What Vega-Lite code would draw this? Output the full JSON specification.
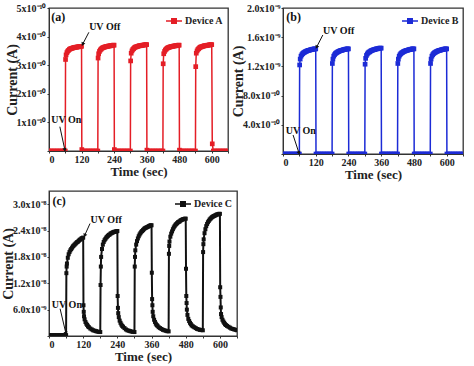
{
  "$schema": "https://vega.github.io/schema/vega-lite/v6.json",
  "padding": {"left": 0, "top": 2, "right": 0, "bottom": 0},
  "background": "white",
  "config": {
    "font": "Liberation Serif",
    "view": {"stroke": "#333", "strokeWidth": 1.3},
    "axis": {"grid": false, "labelOverlap": false, "labelFont": "Liberation Serif", "labelFontWeight": "bold", "labelFontSize": 10, "labelColor": "#222", "titleFont": "Liberation Serif", "titleFontWeight": "bold", "titleFontSize": 14, "titleColor": "#222", "domainColor": "#333", "tickColor": "#333", "tickSize": 2, "labelPadding": 1, "titlePadding": 0},
    "axisX": {"titlePadding": 1, "tickCount": 12},
    "axisY": {"titlePadding": -3, "tickCount": 6},
    "legend": {"orient": "top-right", "offset": 4, "padding": 0, "labelFont": "Liberation Serif", "labelFontWeight": "bold", "labelFontSize": 10, "labelColor": "#222", "labelOffset": 2, "symbolType": "M-1,0H1M-0.28,-0.28H0.28V0.28H-0.28Z", "symbolSize": 256, "symbolStrokeWidth": 1.5},
    "text": {"font": "Liberation Serif", "fontWeight": "bold", "fontSize": 10, "color": "#111", "align": "left", "baseline": "middle"}
  },
  "datasets": {
    "A": [
      {"t":0,"v":0},{"t":6,"v":0},{"t":12,"v":0},{"t":18,"v":0},{"t":24,"v":0},{"t":30,"v":0},{"t":36,"v":0},{"t":42,"v":0},{"t":48,"v":0},{"t":54,"v":0},
      {"t":60,"v":0},{"t":61,"v":3.2e-10},{"t":63,"v":3.36e-10},{"t":66,"v":3.44e-10},{"t":69,"v":3.49e-10},{"t":72,"v":3.52e-10},{"t":75,"v":3.55e-10},{"t":78,"v":3.57e-10},{"t":81,"v":3.58e-10},{"t":84,"v":3.59e-10},{"t":87,"v":3.6e-10},{"t":90,"v":3.61e-10},{"t":93,"v":3.62e-10},{"t":96,"v":3.62e-10},{"t":99,"v":3.63e-10},{"t":102,"v":3.63e-10},{"t":105,"v":3.64e-10},{"t":108,"v":3.64e-10},{"t":111,"v":3.65e-10},{"t":114,"v":3.65e-10},{"t":117,"v":3.66e-10},{"t":120,"v":3.66e-10},
      {"t":121,"v":0.05e-10},{"t":126,"v":0},{"t":132,"v":0},{"t":138,"v":0},{"t":144,"v":0},{"t":150,"v":0},{"t":156,"v":0},{"t":162,"v":0},{"t":168,"v":0},{"t":174,"v":0},
      {"t":180,"v":0},{"t":181,"v":3.25e-10},{"t":183,"v":3.4e-10},{"t":186,"v":3.48e-10},{"t":189,"v":3.53e-10},{"t":192,"v":3.56e-10},{"t":195,"v":3.59e-10},{"t":198,"v":3.61e-10},{"t":201,"v":3.62e-10},{"t":204,"v":3.63e-10},{"t":207,"v":3.64e-10},{"t":210,"v":3.65e-10},{"t":213,"v":3.66e-10},{"t":216,"v":3.66e-10},{"t":219,"v":3.67e-10},{"t":222,"v":3.67e-10},{"t":225,"v":3.68e-10},{"t":228,"v":3.68e-10},{"t":231,"v":3.69e-10},{"t":234,"v":3.69e-10},{"t":237,"v":3.7e-10},{"t":240,"v":3.7e-10},
      {"t":241,"v":0.05e-10},{"t":246,"v":0},{"t":252,"v":0},{"t":258,"v":0},{"t":264,"v":0},{"t":270,"v":0},{"t":276,"v":0},{"t":282,"v":0},{"t":288,"v":0},{"t":294,"v":0},
      {"t":300,"v":0},{"t":301,"v":3.15e-10},{"t":303,"v":3.42e-10},{"t":306,"v":3.5e-10},{"t":309,"v":3.55e-10},{"t":312,"v":3.58e-10},{"t":315,"v":3.61e-10},{"t":318,"v":3.63e-10},{"t":321,"v":3.64e-10},{"t":324,"v":3.65e-10},{"t":327,"v":3.66e-10},{"t":330,"v":3.67e-10},{"t":333,"v":3.68e-10},{"t":336,"v":3.68e-10},{"t":339,"v":3.69e-10},{"t":342,"v":3.69e-10},{"t":345,"v":3.7e-10},{"t":348,"v":3.7e-10},{"t":351,"v":3.71e-10},{"t":354,"v":3.71e-10},{"t":357,"v":3.72e-10},{"t":360,"v":3.72e-10},
      {"t":361,"v":0.03e-10},{"t":366,"v":0},{"t":372,"v":0},{"t":378,"v":0},{"t":384,"v":0},{"t":390,"v":0},{"t":396,"v":0},{"t":402,"v":0},{"t":408,"v":0},{"t":414,"v":0},
      {"t":420,"v":0},{"t":421,"v":3.05e-10},{"t":423,"v":3.4e-10},{"t":426,"v":3.48e-10},{"t":429,"v":3.53e-10},{"t":432,"v":3.56e-10},{"t":435,"v":3.59e-10},{"t":438,"v":3.61e-10},{"t":441,"v":3.62e-10},{"t":444,"v":3.63e-10},{"t":447,"v":3.64e-10},{"t":450,"v":3.65e-10},{"t":453,"v":3.66e-10},{"t":456,"v":3.66e-10},{"t":459,"v":3.67e-10},{"t":462,"v":3.67e-10},{"t":465,"v":3.68e-10},{"t":468,"v":3.68e-10},{"t":471,"v":3.69e-10},{"t":474,"v":3.69e-10},{"t":477,"v":3.7e-10},{"t":480,"v":3.7e-10},
      {"t":481,"v":0.03e-10},{"t":486,"v":0},{"t":492,"v":0},{"t":498,"v":0},{"t":504,"v":0},{"t":510,"v":0},{"t":516,"v":0},{"t":522,"v":0},{"t":528,"v":0},{"t":534,"v":0},
      {"t":540,"v":0},{"t":541,"v":2.95e-10},{"t":543,"v":3.42e-10},{"t":546,"v":3.5e-10},{"t":549,"v":3.55e-10},{"t":552,"v":3.58e-10},{"t":555,"v":3.61e-10},{"t":558,"v":3.63e-10},{"t":561,"v":3.64e-10},{"t":564,"v":3.65e-10},{"t":567,"v":3.66e-10},{"t":570,"v":3.67e-10},{"t":573,"v":3.68e-10},{"t":576,"v":3.68e-10},{"t":579,"v":3.69e-10},{"t":582,"v":3.69e-10},{"t":585,"v":3.7e-10},{"t":588,"v":3.7e-10},{"t":591,"v":3.71e-10},{"t":594,"v":3.71e-10},{"t":597,"v":3.72e-10},{"t":600,"v":3.72e-10},
      {"t":602,"v":0.25e-10},{"t":606,"v":0},{"t":612,"v":0},{"t":618,"v":0},{"t":624,"v":0},{"t":630,"v":0},{"t":636,"v":0},{"t":642,"v":0},{"t":648,"v":0},{"t":654,"v":0},{"t":660,"v":0}
    ],
    "B": [
      {"t":0,"v":0},{"t":6,"v":0},{"t":12,"v":0},{"t":18,"v":0},{"t":24,"v":0},{"t":30,"v":0},{"t":36,"v":0},{"t":42,"v":0},{"t":48,"v":0},{"t":54,"v":0},
      {"t":60,"v":0},{"t":61,"v":1.22e-9},{"t":63,"v":1.3e-9},{"t":66,"v":1.34e-9},{"t":69,"v":1.36e-9},{"t":72,"v":1.375e-9},{"t":75,"v":1.385e-9},{"t":78,"v":1.39e-9},{"t":81,"v":1.4e-9},{"t":84,"v":1.405e-9},{"t":87,"v":1.41e-9},{"t":90,"v":1.415e-9},{"t":93,"v":1.42e-9},{"t":96,"v":1.42e-9},{"t":99,"v":1.425e-9},{"t":102,"v":1.43e-9},{"t":105,"v":1.43e-9},{"t":108,"v":1.435e-9},{"t":111,"v":1.435e-9},{"t":114,"v":1.44e-9},{"t":117,"v":1.44e-9},{"t":120,"v":1.44e-9},
      {"t":121,"v":0},{"t":126,"v":0},{"t":132,"v":0},{"t":138,"v":0},{"t":144,"v":0},{"t":150,"v":0},{"t":156,"v":0},{"t":162,"v":0},{"t":168,"v":0},{"t":174,"v":0},
      {"t":180,"v":0},{"t":181,"v":1.24e-9},{"t":183,"v":1.3e-9},{"t":186,"v":1.34e-9},{"t":189,"v":1.36e-9},{"t":192,"v":1.375e-9},{"t":195,"v":1.385e-9},{"t":198,"v":1.39e-9},{"t":201,"v":1.4e-9},{"t":204,"v":1.405e-9},{"t":207,"v":1.41e-9},{"t":210,"v":1.415e-9},{"t":213,"v":1.42e-9},{"t":216,"v":1.42e-9},{"t":219,"v":1.425e-9},{"t":222,"v":1.43e-9},{"t":225,"v":1.43e-9},{"t":228,"v":1.435e-9},{"t":231,"v":1.435e-9},{"t":234,"v":1.44e-9},{"t":237,"v":1.44e-9},{"t":240,"v":1.44e-9},
      {"t":241,"v":0},{"t":246,"v":0},{"t":252,"v":0},{"t":258,"v":0},{"t":264,"v":0},{"t":270,"v":0},{"t":276,"v":0},{"t":282,"v":0},{"t":288,"v":0},{"t":294,"v":0},
      {"t":300,"v":0},{"t":301,"v":1.23e-9},{"t":303,"v":1.31e-9},{"t":306,"v":1.35e-9},{"t":309,"v":1.37e-9},{"t":312,"v":1.385e-9},{"t":315,"v":1.395e-9},{"t":318,"v":1.4e-9},{"t":321,"v":1.41e-9},{"t":324,"v":1.415e-9},{"t":327,"v":1.42e-9},{"t":330,"v":1.425e-9},{"t":333,"v":1.43e-9},{"t":336,"v":1.43e-9},{"t":339,"v":1.435e-9},{"t":342,"v":1.44e-9},{"t":345,"v":1.44e-9},{"t":348,"v":1.445e-9},{"t":351,"v":1.445e-9},{"t":354,"v":1.45e-9},{"t":357,"v":1.45e-9},{"t":360,"v":1.45e-9},
      {"t":361,"v":0},{"t":366,"v":0},{"t":372,"v":0},{"t":378,"v":0},{"t":384,"v":0},{"t":390,"v":0},{"t":396,"v":0},{"t":402,"v":0},{"t":408,"v":0},{"t":414,"v":0},
      {"t":420,"v":0},{"t":421,"v":1.24e-9},{"t":423,"v":1.3e-9},{"t":426,"v":1.34e-9},{"t":429,"v":1.36e-9},{"t":432,"v":1.375e-9},{"t":435,"v":1.385e-9},{"t":438,"v":1.39e-9},{"t":441,"v":1.4e-9},{"t":444,"v":1.405e-9},{"t":447,"v":1.41e-9},{"t":450,"v":1.415e-9},{"t":453,"v":1.42e-9},{"t":456,"v":1.42e-9},{"t":459,"v":1.425e-9},{"t":462,"v":1.43e-9},{"t":465,"v":1.43e-9},{"t":468,"v":1.435e-9},{"t":471,"v":1.435e-9},{"t":474,"v":1.44e-9},{"t":477,"v":1.44e-9},{"t":480,"v":1.44e-9},
      {"t":481,"v":0},{"t":486,"v":0},{"t":492,"v":0},{"t":498,"v":0},{"t":504,"v":0},{"t":510,"v":0},{"t":516,"v":0},{"t":522,"v":0},{"t":528,"v":0},{"t":534,"v":0},
      {"t":540,"v":0},{"t":541,"v":1.24e-9},{"t":543,"v":1.3e-9},{"t":546,"v":1.34e-9},{"t":549,"v":1.36e-9},{"t":552,"v":1.375e-9},{"t":555,"v":1.385e-9},{"t":558,"v":1.39e-9},{"t":561,"v":1.4e-9},{"t":564,"v":1.405e-9},{"t":567,"v":1.41e-9},{"t":570,"v":1.415e-9},{"t":573,"v":1.42e-9},{"t":576,"v":1.42e-9},{"t":579,"v":1.425e-9},{"t":582,"v":1.43e-9},{"t":585,"v":1.43e-9},{"t":588,"v":1.435e-9},{"t":591,"v":1.435e-9},{"t":594,"v":1.44e-9},{"t":597,"v":1.44e-9},{"t":600,"v":1.44e-9},
      {"t":601,"v":0},{"t":606,"v":0},{"t":612,"v":0},{"t":618,"v":0},{"t":624,"v":0},{"t":630,"v":0},{"t":636,"v":0},{"t":642,"v":0},{"t":648,"v":0},{"t":654,"v":0},{"t":660,"v":0}
    ],
    "C": [
      {"t":0,"v":0.2e-9},{"t":6,"v":0.2e-9},{"t":12,"v":0.2e-9},{"t":18,"v":0.2e-9},{"t":24,"v":0.2e-9},{"t":30,"v":0.2e-9},{"t":36,"v":0.2e-9},{"t":42,"v":0.2e-9},{"t":48,"v":0.2e-9},{"t":54,"v":0.2e-9},{"t":60,"v":0.2e-9},
      {"t":61,"v":14.3e-9},{"t":62,"v":15.8e-9},{"t":63,"v":16.5e-9},{"t":66,"v":17.8e-9},{"t":69,"v":18.6e-9},{"t":72,"v":19.1e-9},{"t":75,"v":19.5e-9},{"t":78,"v":19.8e-9},{"t":81,"v":20.1e-9},{"t":84,"v":20.4e-9},{"t":87,"v":20.6e-9},{"t":90,"v":20.8e-9},{"t":93,"v":21.0e-9},{"t":96,"v":21.2e-9},{"t":99,"v":21.4e-9},{"t":102,"v":21.5e-9},{"t":105,"v":21.7e-9},{"t":108,"v":21.9e-9},{"t":111,"v":22.0e-9},{"t":114,"v":22.2e-9},{"t":117,"v":22.3e-9},{"t":120,"v":22.4e-9},
      {"t":121,"v":7.0e-9},{"t":122,"v":5.5e-9},{"t":123,"v":4.5e-9},{"t":125,"v":3.8e-9},{"t":128,"v":3.2e-9},{"t":131,"v":2.8e-9},{"t":134,"v":2.5e-9},{"t":137,"v":2.2e-9},{"t":140,"v":2.0e-9},{"t":145,"v":1.7e-9},{"t":150,"v":1.5e-9},{"t":155,"v":1.3e-9},{"t":160,"v":1.2e-9},{"t":165,"v":1.1e-9},{"t":170,"v":1.0e-9},{"t":175,"v":0.95e-9},{"t":180,"v":0.9e-9},
      {"t":181,"v":11.6e-9},{"t":182,"v":15.8e-9},{"t":183,"v":18.0e-9},{"t":186,"v":19.8e-9},{"t":189,"v":20.8e-9},{"t":192,"v":21.4e-9},{"t":195,"v":21.8e-9},{"t":198,"v":22.1e-9},{"t":201,"v":22.4e-9},{"t":204,"v":22.6e-9},{"t":207,"v":22.8e-9},{"t":210,"v":23.0e-9},{"t":213,"v":23.1e-9},{"t":216,"v":23.3e-9},{"t":219,"v":23.4e-9},{"t":222,"v":23.5e-9},{"t":225,"v":23.6e-9},{"t":228,"v":23.7e-9},{"t":231,"v":23.7e-9},{"t":234,"v":23.8e-9},{"t":237,"v":23.8e-9},{"t":240,"v":23.9e-9},
      {"t":241,"v":9.1e-9},{"t":242,"v":6.4e-9},{"t":243,"v":5.2e-9},{"t":245,"v":4.3e-9},{"t":248,"v":3.5e-9},{"t":251,"v":3.0e-9},{"t":254,"v":2.6e-9},{"t":257,"v":2.3e-9},{"t":260,"v":2.1e-9},{"t":265,"v":1.8e-9},{"t":270,"v":1.5e-9},{"t":275,"v":1.3e-9},{"t":280,"v":1.2e-9},{"t":285,"v":1.1e-9},{"t":290,"v":1.0e-9},{"t":295,"v":0.95e-9},{"t":300,"v":0.9e-9},
      {"t":301,"v":15.8e-9},{"t":302,"v":18.0e-9},{"t":303,"v":19.5e-9},{"t":306,"v":20.8e-9},{"t":309,"v":21.6e-9},{"t":312,"v":22.2e-9},{"t":315,"v":22.7e-9},{"t":318,"v":23.1e-9},{"t":321,"v":23.4e-9},{"t":324,"v":23.7e-9},{"t":327,"v":23.9e-9},{"t":330,"v":24.1e-9},{"t":333,"v":24.3e-9},{"t":336,"v":24.5e-9},{"t":339,"v":24.6e-9},{"t":342,"v":24.7e-9},{"t":345,"v":24.8e-9},{"t":348,"v":24.9e-9},{"t":351,"v":25.0e-9},{"t":354,"v":25.1e-9},{"t":357,"v":25.2e-9},{"t":360,"v":25.2e-9},
      {"t":361,"v":14.4e-9},{"t":362,"v":8.4e-9},{"t":363,"v":7.0e-9},{"t":364,"v":5.5e-9},{"t":366,"v":4.5e-9},{"t":369,"v":3.7e-9},{"t":372,"v":3.2e-9},{"t":375,"v":2.8e-9},{"t":378,"v":2.5e-9},{"t":381,"v":2.3e-9},{"t":385,"v":2.0e-9},{"t":390,"v":1.8e-9},{"t":395,"v":1.6e-9},{"t":400,"v":1.4e-9},{"t":405,"v":1.3e-9},{"t":410,"v":1.2e-9},{"t":415,"v":1.1e-9},{"t":420,"v":1.05e-9},
      {"t":421,"v":18.7e-9},{"t":422,"v":20.5e-9},{"t":423,"v":21.5e-9},{"t":426,"v":22.6e-9},{"t":429,"v":23.3e-9},{"t":432,"v":23.8e-9},{"t":435,"v":24.3e-9},{"t":438,"v":24.7e-9},{"t":441,"v":25.0e-9},{"t":444,"v":25.3e-9},{"t":447,"v":25.5e-9},{"t":450,"v":25.7e-9},{"t":453,"v":25.9e-9},{"t":456,"v":26.0e-9},{"t":459,"v":26.1e-9},{"t":462,"v":26.3e-9},{"t":465,"v":26.4e-9},{"t":468,"v":26.5e-9},{"t":471,"v":26.6e-9},{"t":474,"v":26.6e-9},{"t":477,"v":26.7e-9},{"t":480,"v":26.7e-9},
      {"t":481,"v":15.3e-9},{"t":482,"v":9.1e-9},{"t":483,"v":7.5e-9},{"t":484,"v":6.0e-9},{"t":486,"v":4.8e-9},{"t":489,"v":3.9e-9},{"t":492,"v":3.4e-9},{"t":495,"v":3.0e-9},{"t":498,"v":2.7e-9},{"t":501,"v":2.4e-9},{"t":505,"v":2.2e-9},{"t":510,"v":2.0e-9},{"t":515,"v":1.8e-9},{"t":520,"v":1.6e-9},{"t":525,"v":1.5e-9},{"t":530,"v":1.4e-9},{"t":535,"v":1.35e-9},{"t":540,"v":1.3e-9},
      {"t":541,"v":19.1e-9},{"t":542,"v":20.9e-9},{"t":543,"v":22.0e-9},{"t":546,"v":23.4e-9},{"t":549,"v":24.3e-9},{"t":552,"v":25.0e-9},{"t":555,"v":25.5e-9},{"t":558,"v":25.9e-9},{"t":561,"v":26.2e-9},{"t":564,"v":26.5e-9},{"t":567,"v":26.7e-9},{"t":570,"v":26.9e-9},{"t":573,"v":27.1e-9},{"t":576,"v":27.2e-9},{"t":579,"v":27.3e-9},{"t":582,"v":27.4e-9},{"t":585,"v":27.5e-9},{"t":588,"v":27.6e-9},{"t":591,"v":27.7e-9},{"t":594,"v":27.7e-9},{"t":597,"v":27.8e-9},{"t":600,"v":27.8e-9},
      {"t":601,"v":11.1e-9},{"t":602,"v":8.9e-9},{"t":603,"v":6.5e-9},{"t":604,"v":5.0e-9},{"t":606,"v":4.3e-9},{"t":609,"v":3.7e-9},{"t":612,"v":3.3e-9},{"t":615,"v":3.0e-9},{"t":618,"v":2.7e-9},{"t":621,"v":2.5e-9},{"t":625,"v":2.3e-9},{"t":630,"v":2.1e-9},{"t":635,"v":1.9e-9},{"t":640,"v":1.7e-9},{"t":645,"v":1.6e-9},{"t":650,"v":1.5e-9},{"t":655,"v":1.4e-9},{"t":660,"v":1.3e-9}
    ]
  },
  "resolve": {"scale": {"color": "independent"}, "legend": {"color": "independent"}},
  "spacing": 8,
  "vconcat": [
    {
      "resolve": {"scale": {"color": "independent"}, "legend": {"color": "independent"}},
      "spacing": 0,
      "hconcat": [
        {
          "width": 179, "height": 143,
          "layer": [
            {
              "data": {"name": "A"},
              "mark": {"type": "line", "clip": true, "strokeWidth": 1.5, "point": {"shape": "square", "filled": true, "size": 22, "clip": true}},
              "encoding": {
                "x": {"field": "t", "type": "quantitative", "scale": {"domain": [0, 660], "nice": false}, "axis": {"title": "Time (sec)", "titleFontSize": 13, "labelOverlap": false, "tickCount": 12, "values": [0,60,120,180,240,300,360,420,480,540,600,660], "labelExpr": "datum.value % 120 == 0 && datum.value <= 600 ? datum.label : ''"}},
                "y": {"field": "v", "type": "quantitative", "scale": {"domain": [0, 5e-10], "nice": false}, "axis": {"title": "Current (A)", "labelOverlap": false, "tickCount": 6, "values": [0, 1e-10, 2e-10, 3e-10, 4e-10, 5e-10], "labelExpr": "datum.value == 0 ? '' : format(datum.value*1e10, '.0f') + 'x10⁻¹⁰'"}},
                "color": {"datum": "Device A", "type": "nominal", "scale": {"range": ["#e41e26"]}, "legend": {"title": null, "encode": {"symbols": {"update": {"fill": {"value": "#e41e26"}, "stroke": {"value": "#e41e26"}}}}}}
              }
            },
            {"data": {"values": [{}]}, "mark": {"type": "text", "fontSize": 12}, "encoding": {"x": {"datum": 8}, "y": {"datum": 4.68e-10}, "text": {"value": "(a)"}}},
            {"data": {"values": [{}]}, "mark": {"type": "text"}, "encoding": {"x": {"datum": 148}, "y": {"datum": 4.35e-10}, "text": {"value": "UV Off"}}},
            {"data": {"values": [{}]}, "mark": {"type": "text"}, "encoding": {"x": {"datum": 8}, "y": {"datum": 1.1e-10}, "text": {"value": "UV On"}}},
            {"data": {"values": [{}]}, "mark": {"type": "rule", "color": "#111", "strokeWidth": 1}, "encoding": {"x": {"datum": 147}, "x2": {"datum": 125}, "y": {"datum": 4.15e-10}, "y2": {"datum": 3.75e-10}}},
            {"data": {"values": [{}]}, "mark": {"type": "rule", "color": "#111", "strokeWidth": 1}, "encoding": {"x": {"datum": 40}, "x2": {"datum": 58}, "y": {"datum": 0.85e-10}, "y2": {"datum": 0.06e-10}}},
            {"data": {"values": [{}]}, "mark": {"type": "point", "shape": "triangle", "filled": true, "color": "#111", "size": 18, "angle": 207, "opacity": 1}, "encoding": {"x": {"datum": 125}, "y": {"datum": 3.75e-10}}},
            {"data": {"values": [{}]}, "mark": {"type": "point", "shape": "triangle", "filled": true, "color": "#111", "size": 18, "angle": 168, "opacity": 1}, "encoding": {"x": {"datum": 58}, "y": {"datum": 0.06e-10}}}
          ]
        },
        {
          "width": 180, "height": 146,
          "layer": [
            {
              "data": {"name": "B"},
              "mark": {"type": "line", "clip": true, "strokeWidth": 1.5, "point": {"shape": "square", "filled": true, "size": 22, "clip": true}},
              "encoding": {
                "x": {"field": "t", "type": "quantitative", "scale": {"domain": [0, 660], "nice": false}, "axis": {"title": "Time (sec)", "titleFontSize": 13, "labelOverlap": false, "tickCount": 12, "values": [0,60,120,180,240,300,360,420,480,540,600,660], "labelExpr": "datum.value % 120 == 0 && datum.value <= 600 ? datum.label : ''"}},
                "y": {"field": "v", "type": "quantitative", "scale": {"domain": [0, 2e-9], "nice": false}, "axis": {"title": "Current (A)", "labelOverlap": false, "tickCount": 6, "values": [0, 4e-10, 8e-10, 1.2e-9, 1.6e-9, 2e-9], "labelExpr": "datum.value == 0 ? '' : datum.value < 1e-9 ? format(datum.value*1e10, '.1f') + 'x10⁻¹⁰' : format(datum.value*1e9, '.1f') + 'x10⁻⁹'"}},
                "color": {"datum": "Device B", "type": "nominal", "scale": {"range": ["#1c2bd6"]}, "legend": {"title": null, "encode": {"symbols": {"update": {"fill": {"value": "#1c2bd6"}, "stroke": {"value": "#1c2bd6"}}}}}}
              }
            },
            {"data": {"values": [{}]}, "mark": {"type": "text", "fontSize": 12}, "encoding": {"x": {"datum": 12}, "y": {"datum": 1.88e-9}, "text": {"value": "(b)"}}},
            {"data": {"values": [{}]}, "mark": {"type": "text"}, "encoding": {"x": {"datum": 147}, "y": {"datum": 1.68e-9}, "text": {"value": "UV Off"}}},
            {"data": {"values": [{}]}, "mark": {"type": "text"}, "encoding": {"x": {"datum": 10}, "y": {"datum": 0.32e-9}, "text": {"value": "UV On"}}},
            {"data": {"values": [{}]}, "mark": {"type": "rule", "color": "#111", "strokeWidth": 1}, "encoding": {"x": {"datum": 146}, "x2": {"datum": 124}, "y": {"datum": 1.63e-9}, "y2": {"datum": 1.47e-9}}},
            {"data": {"values": [{}]}, "mark": {"type": "rule", "color": "#111", "strokeWidth": 1}, "encoding": {"x": {"datum": 37}, "x2": {"datum": 58}, "y": {"datum": 0.26e-9}, "y2": {"datum": 0.02e-9}}},
            {"data": {"values": [{}]}, "mark": {"type": "point", "shape": "triangle", "filled": true, "color": "#111", "size": 18, "angle": 207, "opacity": 1}, "encoding": {"x": {"datum": 124}, "y": {"datum": 1.47e-9}}},
            {"data": {"values": [{}]}, "mark": {"type": "point", "shape": "triangle", "filled": true, "color": "#111", "size": 18, "angle": 162, "opacity": 1}, "encoding": {"x": {"datum": 58}, "y": {"datum": 0.02e-9}}}
          ]
        }
      ]
    },
    {
      "width": 188, "height": 145,
      "layer": [
        {
          "data": {"name": "C"},
          "mark": {"type": "line", "clip": true, "strokeWidth": 2, "color": "#111", "point": {"shape": "square", "filled": true, "size": 16, "clip": true}},
          "encoding": {
            "x": {"field": "t", "type": "quantitative", "scale": {"domain": [0, 660], "nice": false}, "axis": {"title": "Time (sec)", "titleFontSize": 13, "labelOverlap": false, "tickCount": 12, "values": [0,60,120,180,240,300,360,420,480,540,600,660], "labelExpr": "datum.value % 120 == 0 && datum.value <= 600 ? datum.label : ''"}},
            "y": {"field": "v", "type": "quantitative", "scale": {"domain": [0, 3.3e-8], "nice": false}, "axis": {"title": "Current (A)", "labelOverlap": false, "tickCount": 6, "values": [0, 6e-9, 1.2e-8, 1.8e-8, 2.4e-8, 3e-8], "labelExpr": "datum.value == 0 ? '' : datum.value < 1e-8 ? format(datum.value*1e9, '.1f') + 'x10⁻⁹' : format(datum.value*1e8, '.1f') + 'x10⁻⁸'"}},
            "color": {"datum": "Device C", "type": "nominal", "scale": {"range": ["#111111"]}, "legend": {"title": null, "encode": {"symbols": {"update": {"fill": {"value": "#111111"}, "stroke": {"value": "#111111"}}}}}}
          }
        },
        {"data": {"values": [{}]}, "mark": {"type": "text", "fontSize": 12}, "encoding": {"x": {"datum": 12}, "y": {"datum": 30.8e-9}, "text": {"value": "(c)"}}},
        {"data": {"values": [{}]}, "mark": {"type": "text"}, "encoding": {"x": {"datum": 146}, "y": {"datum": 26.5e-9}, "text": {"value": "UV Off"}}},
        {"data": {"values": [{}]}, "mark": {"type": "text"}, "encoding": {"x": {"datum": 10}, "y": {"datum": 7.1e-9}, "text": {"value": "UV On"}}},
        {"data": {"values": [{}]}, "mark": {"type": "rule", "color": "#111", "strokeWidth": 1}, "encoding": {"x": {"datum": 144}, "x2": {"datum": 126}, "y": {"datum": 25.6e-9}, "y2": {"datum": 23.0e-9}}},
        {"data": {"values": [{}]}, "mark": {"type": "rule", "color": "#111", "strokeWidth": 1}, "encoding": {"x": {"datum": 39}, "x2": {"datum": 59}, "y": {"datum": 6.2e-9}, "y2": {"datum": 0.7e-9}}},
        {"data": {"values": [{}]}, "mark": {"type": "point", "shape": "triangle", "filled": true, "color": "#111", "size": 18, "angle": 203, "opacity": 1}, "encoding": {"x": {"datum": 126}, "y": {"datum": 23.0e-9}}},
        {"data": {"values": [{}]}, "mark": {"type": "point", "shape": "triangle", "filled": true, "color": "#111", "size": 18, "angle": 166, "opacity": 1}, "encoding": {"x": {"datum": 59}, "y": {"datum": 0.7e-9}}}
      ]
    }
  ]
}
